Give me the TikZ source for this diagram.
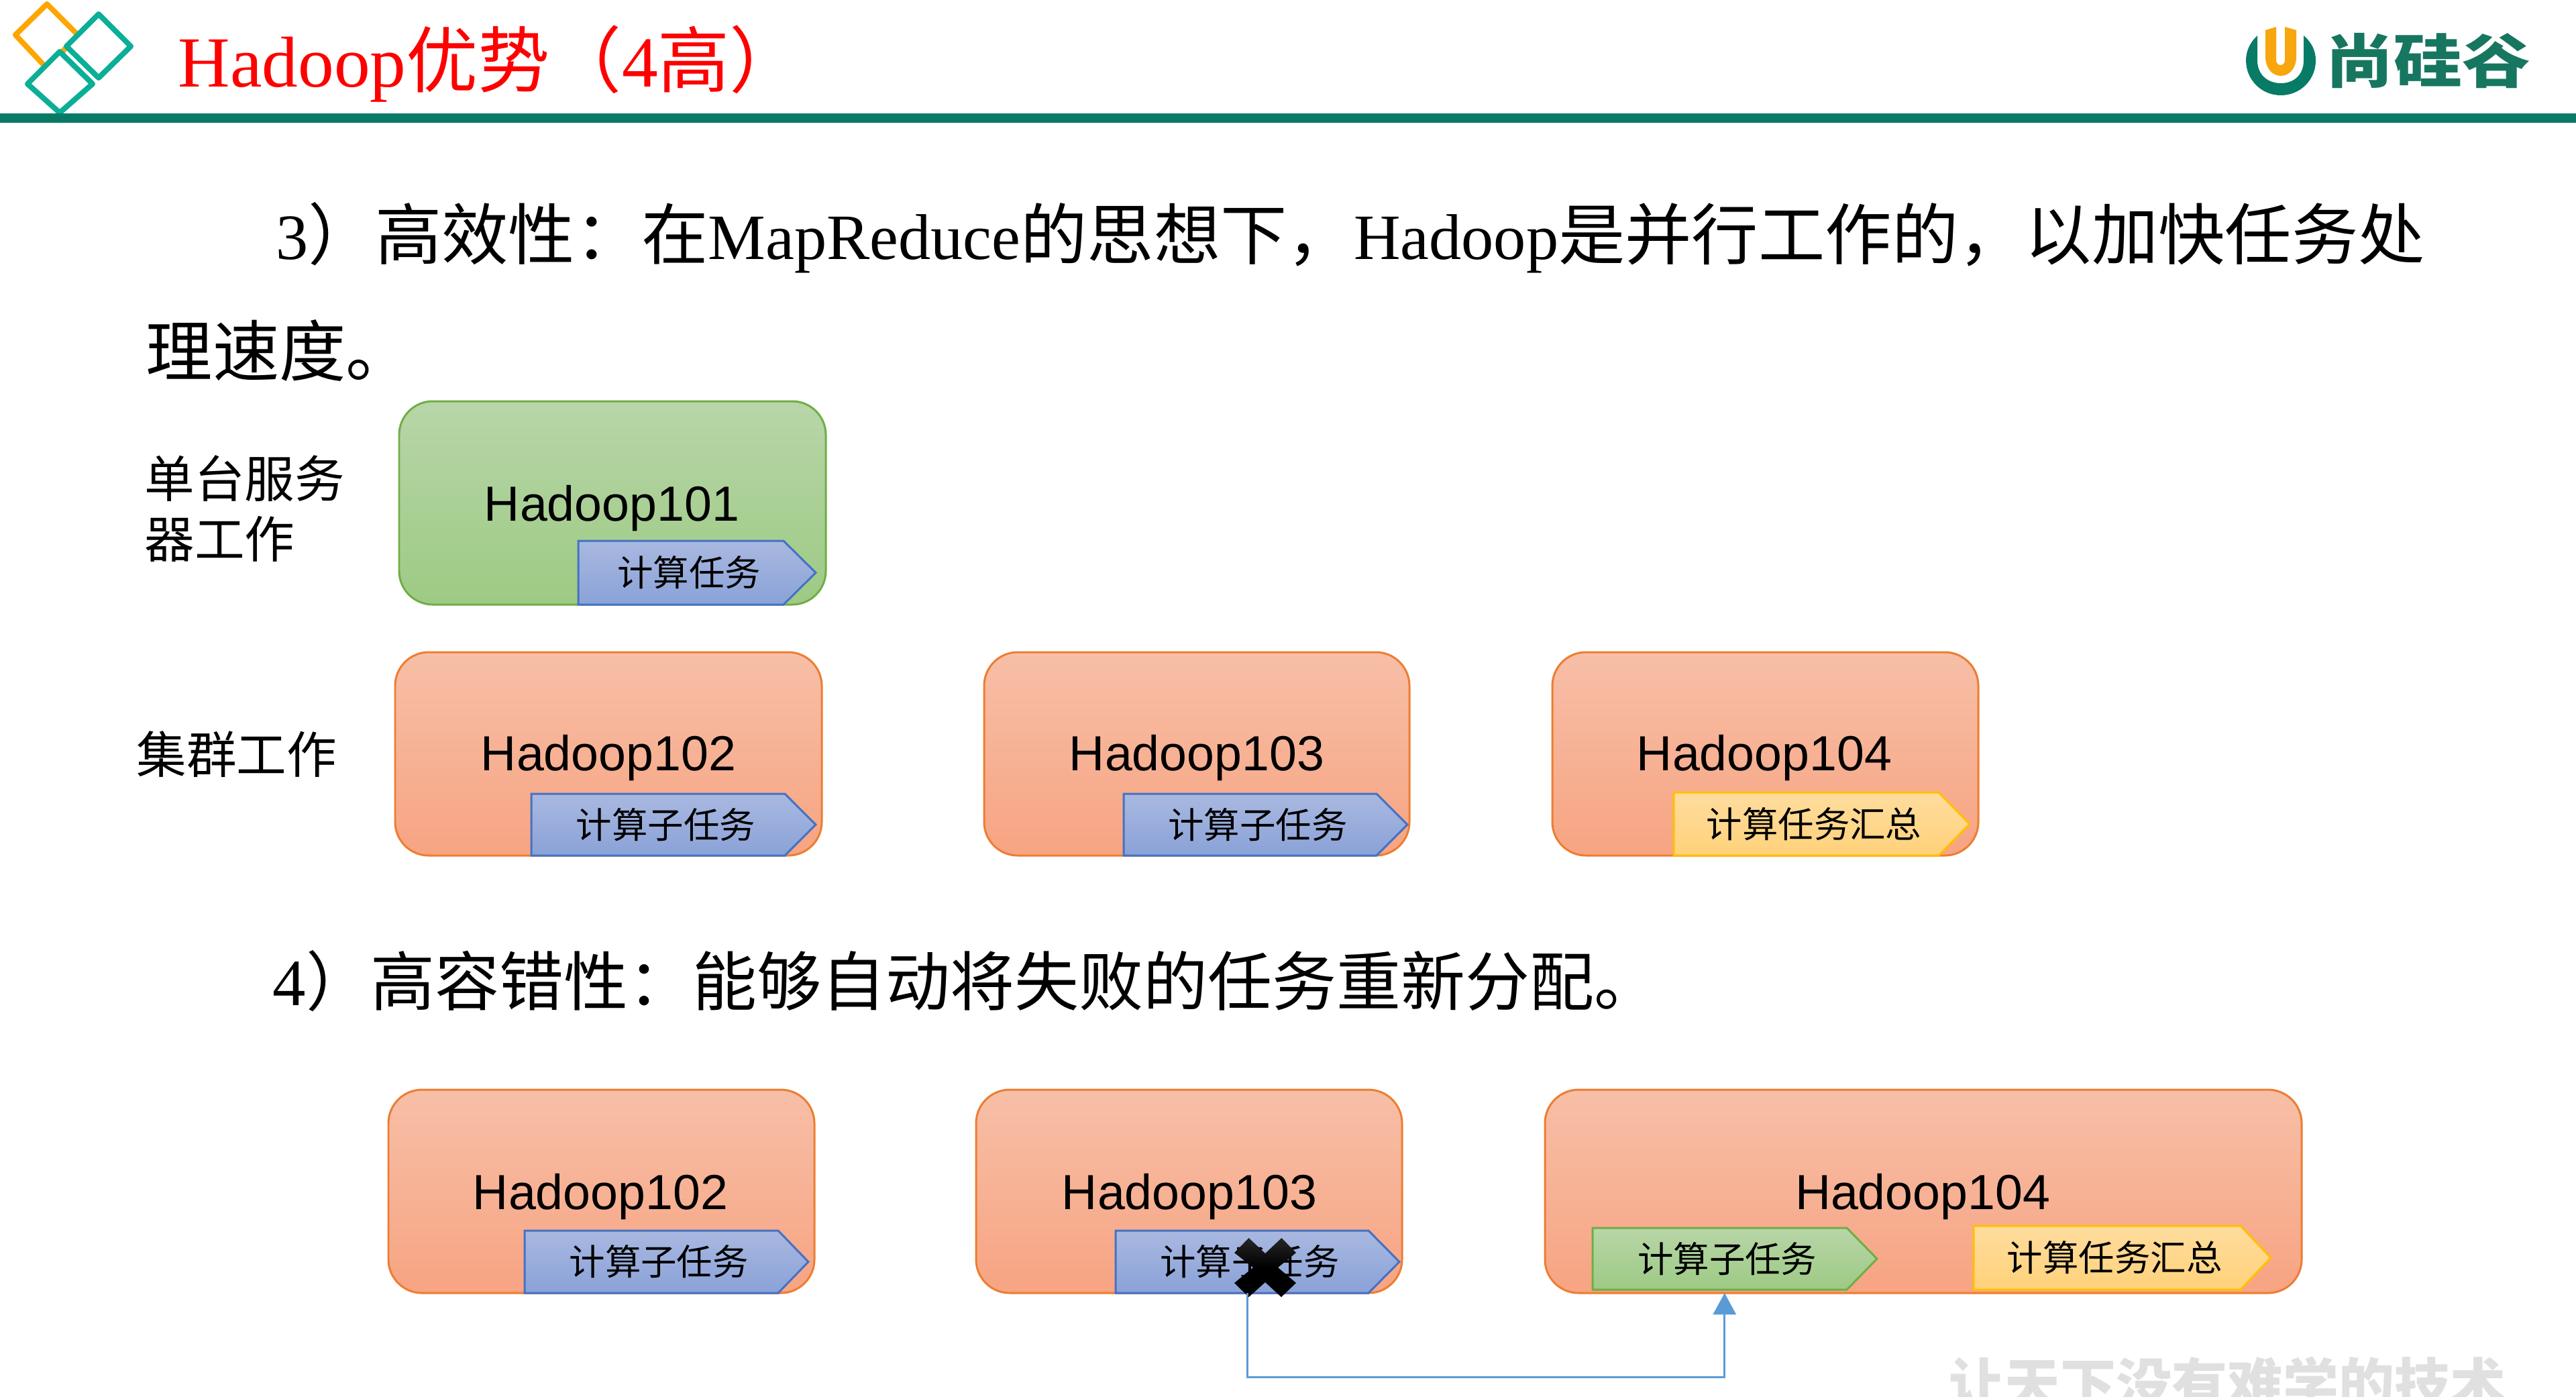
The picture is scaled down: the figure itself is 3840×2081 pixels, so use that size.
\documentclass[tikz,border=0pt]{standalone}
\usepackage{fontspec}
\setmainfont{Liberation Serif}
\newfontfamily\cjkf{Noto Sans CJK SC}
\newfontfamily\arialf{Liberation Sans}
\usetikzlibrary{calc,arrows.meta}
\newcommand\zh[1]{{\cjkf #1}}
\newcommand\zb[1]{{\cjkf\fs{28.25}#1}}
\newcommand\fs[1]{\fontsize{#1}{#1}\selectfont}
\definecolor{rulegreen}{HTML}{087B66}
\definecolor{teal}{HTML}{0BAE96}
\definecolor{dorange}{HTML}{FFA500}
\definecolor{logogreen}{HTML}{087B66}
\definecolor{logotext}{HTML}{17765F}
\definecolor{logoorange}{HTML}{F7A60D}
\definecolor{connblue}{HTML}{5B9BD5}
\definecolor{HEXo}{HTML}{ED7D31}\definecolor{F7top}{HTML}{F7BFA7}\definecolor{F7bot}{HTML}{F7A482}
\definecolor{HEXg}{HTML}{70AD47}\definecolor{Gtop}{HTML}{B8D6A8}\definecolor{Gbot}{HTML}{9DCA84}
\definecolor{HEXb}{HTML}{4472C4}\definecolor{Btop}{HTML}{A9B8E0}\definecolor{Bbot}{HTML}{8AA2D8}
\definecolor{HEXy}{HTML}{FFC000}\definecolor{Ytop}{HTML}{FFDC9E}\definecolor{Ybot}{HTML}{FFD27A}
\tikzset{
  orangebox/.style={rounded corners=0.5cm,draw=HEXo,line width=0.85pt,top color=F7top,bottom color=F7bot},
  greenbox/.style={rounded corners=0.5cm,draw=HEXg,line width=0.85pt,top color=Gtop,bottom color=Gbot},
  bluetag/.style={draw=HEXb,line width=0.85pt,top color=Btop,bottom color=Bbot},
  greentag/.style={draw=HEXg,line width=0.85pt,top color=Gtop,bottom color=Gbot},
  yellowtag/.style={draw=HEXy,line width=0.85pt,top color=Ytop,bottom color=Ybot},
  hlabel/.style={font=\arialf\fs{20.9},text=black,inner sep=0pt},
  taglabel/.style={font=\cjkf\fs{15.2},text=black,inner sep=0pt,outer sep=0pt},
  sidelabel/.style={font=\cjkf\fs{21.2},text=black,inner sep=0pt,anchor=west,align=left},
  bodytext/.style={font=\fs{27.4},text=black,inner sep=0pt,anchor=west},
  diamondline/.style={line width=2.3pt,line join=round},
  conn/.style={draw=connblue,line width=0.85pt,-{Triangle[length=0.32cm,width=0.34cm,fill=connblue]}},
}
% box: name x1 y1 x2 y2 style
\newcommand\bx[6]{%
  \pgfmathsetmacro\bw{(#4-#2)*0.01}\pgfmathsetmacro\bh{(#5-#3)*0.01}%
  \node[#6,inner sep=0pt,outer sep=0pt,minimum width=\bw cm,minimum height=\bh cm] (#1) at ({(#2+#4)/2},{(#3+#5)/2}) {};}
% tag: name x1 shoulder tip y1 y2 style text
\newcommand\tg[8]{%
  \path[#7] (#2,#5) -- (#3,#5) -- (#4,{(#5+#6)/2}) -- (#3,#6) -- (#2,#6) -- cycle;%
  \pgfmathsetmacro\bw{((#3+#4)/2-#2)*0.01}\pgfmathsetmacro\bh{(#6-#5)*0.01}%
  \node[taglabel,minimum width=\bw cm,minimum height=\bh cm] (#1) at ({(#2+(#3+#4)/2)/2},{(#5+#6)/2}) {#8};}
\begin{document}
\begin{tikzpicture}[x=0.01cm,y=-0.01cm]
\useasboundingbox (0,0) rectangle (3840,2081);
\fill[white] (0,0) rectangle (3840,2081);
% corner diamonds
\draw[diamondline,dorange,fill=white] (70,6) -- (116,52) -- (70,102) -- (23,52) -- cycle;
\draw[diamondline,teal,fill=white] (147,21) -- (195,69) -- (147,116) -- (99,69) -- cycle;
\draw[diamondline,teal,fill=white] (89,77) -- (138,125) -- (89,168) -- (41,125) -- cycle;
% rule
\fill[rulegreen] (0,169) rectangle (3840,183);
% title
\node[inner sep=0pt,anchor=west,text=red,font=\fs{30.5}] (title) at (265,95) {Hadoop\zh{优势（}4\zh{高）}};
% logo
\fill[logogreen] (3365,53) -- (3365,90) .. controls (3365,112) and (3381,124) .. (3400,124) .. controls (3419,124) and (3434,112) .. (3434,90) -- (3434,53) .. controls (3446,63) and (3452,76) .. (3452,90) .. controls (3452,119) and (3429,142) .. (3400,142) .. controls (3371,142) and (3348,119) .. (3348,90) .. controls (3348,76) and (3354,63) .. (3365,53) -- cycle;
\fill[logoorange] (3377,45) -- (3393,40) -- (3393,90) .. controls (3393,94) and (3396,97) .. (3399.5,97) .. controls (3403,97) and (3406,94) .. (3406,90) -- (3406,40) -- (3423,45) -- (3423,85) .. controls (3423,101) and (3413,113) .. (3400,113) .. controls (3387,113) and (3377,101) .. (3377,85) -- cycle;
\node[inner sep=0pt,text=logotext,font=\cjkf\bfseries\fs{29}] (logotext) at (3619,91) {\scalebox{1}[0.85]{尚硅谷}};
% body text
\node[bodytext] (line1) at (411,354) {3\zb{）高效性：在}MapReduce\zb{的思想下，}Hadoop\zb{是并行工作的，以加快任务处}};
\node[bodytext] (line2) at (217,522) {\zb{理速度。}};
\node[bodytext] (line3) at (406,1462) {\fs{28.08}4{\cjkf\fs{27.3}）高容错性：能够自动将失败的任务重新分配。}};
% side labels
\node[sidelabel] (lab1) at (215,758) {单台服务\\[4.6pt]器工作};
\node[sidelabel] (lab2) at (203,1124) {集群工作};
% single server
\bx{b101}{595}{598}{1231}{901}{greenbox}
\node[hlabel] (h101) at (912,757) {Hadoop101};
\tg{t101}{862}{1168}{1216}{806}{901}{bluetag}{计算任务}
% cluster
\bx{b102}{589}{972}{1225}{1275}{orangebox}
\node[hlabel] (h102) at (907,1129) {Hadoop102};
\tg{t102}{792}{1170}{1216}{1183}{1275}{bluetag}{计算子任务}
\bx{b103}{1467}{972}{2101}{1275}{orangebox}
\node[hlabel] (h103) at (1784,1129) {Hadoop103};
\tg{t103}{1675}{2052}{2098}{1183}{1275}{bluetag}{计算子任务}
\bx{b104}{2314}{972}{2949}{1275}{orangebox}
\node[hlabel] (h104) at (2630,1129) {Hadoop104};
\tg{t104}{2495}{2890}{2936}{1181}{1275}{yellowtag}{计算任务汇总}
% fault tolerance row
\bx{c102}{579}{1624}{1214}{1927}{orangebox}
\node[hlabel] (h202) at (895,1783) {Hadoop102};
\tg{t202}{782}{1160}{1205}{1834}{1927}{bluetag}{计算子任务}
\bx{c103}{1455}{1624}{2090}{1927}{orangebox}
\node[hlabel] (h203) at (1773,1783) {Hadoop103};
\tg{t203}{1663}{2040}{2086}{1834}{1927}{bluetag}{计算子任务}
\bx{c104}{2303}{1624}{3431}{1927}{orangebox}
\node[hlabel] (h204) at (2866,1783) {Hadoop104};
\tg{t204}{2374}{2753}{2798}{1830}{1922}{greentag}{计算子任务}
\tg{t205}{2942}{3340}{3385}{1827}{1922}{yellowtag}{计算任务汇总}
% failure cross
\path[top color=black!85,bottom color=black,middle color=black] (1861.5,1845) -- (1886,1868) -- (1910.4,1845) -- (1932,1867) -- (1905,1889) -- (1932,1912) -- (1910,1933) -- (1886,1911) -- (1861.5,1933) -- (1840,1912) -- (1868,1889) -- (1840,1867) -- cycle;
% connector
\coordinate (lane) at (0,2052);
\draw[conn] ($(t203.south)+(-4,0)$) |- ($(lane -| t204.south)+(-4,0)$) -- ($(t204.south |- c104.south)+(-4,0)$);
% watermark
\begin{scope}
\clip (0,0) rectangle (3840,2081);
\node[inner sep=0pt,text=black!12,font=\cjkf\bfseries\fs{23.6}] (wm) at (3320,2062) {让天下没有难学的技术};
\end{scope}
\end{tikzpicture}
\end{document}
